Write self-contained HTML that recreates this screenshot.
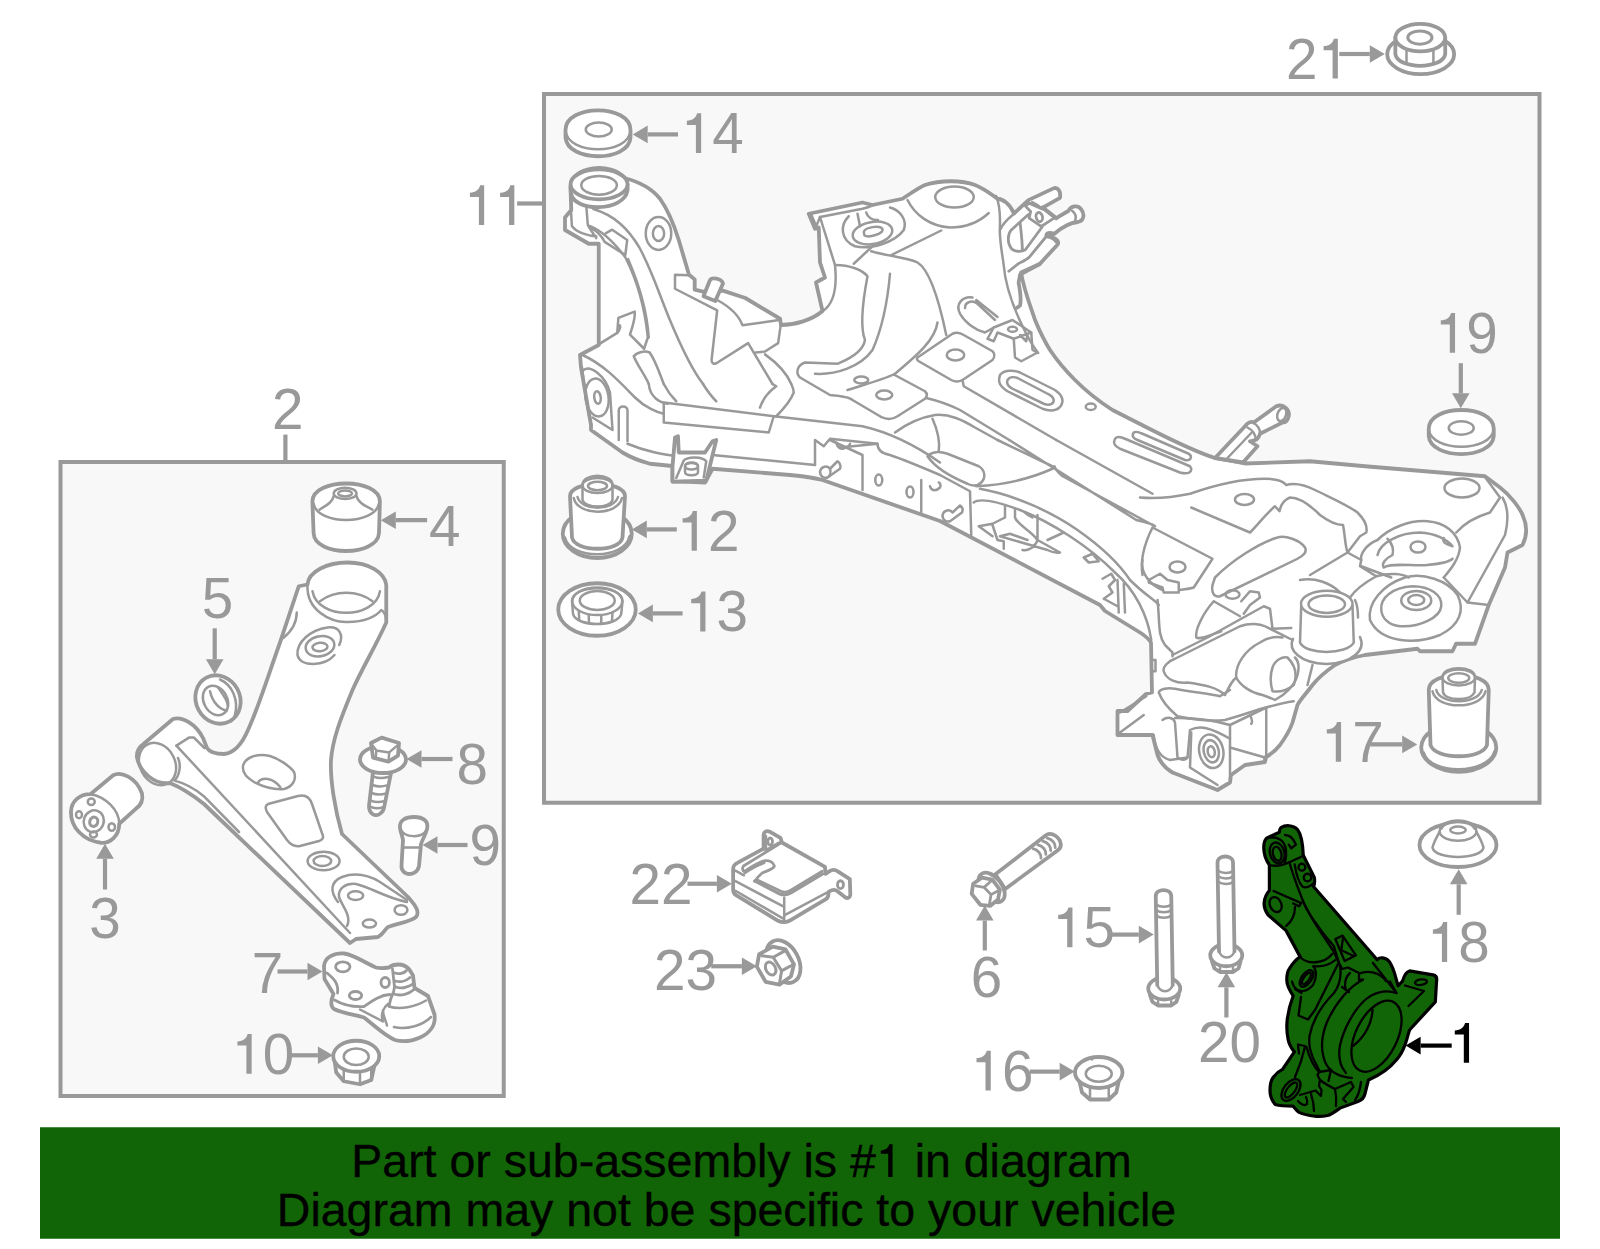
<!DOCTYPE html>
<html><head><meta charset="utf-8"><title>Diagram</title>
<style>
html,body{margin:0;padding:0;background:#fff;}
body{width:1600px;height:1249px;overflow:hidden;position:relative;font-family:"Liberation Sans",sans-serif;}
svg{position:absolute;left:0;top:0;display:block;}
svg *{vector-effect:non-scaling-stroke;}
.o{fill:#fff;stroke:#999;stroke-width:3.8;stroke-linejoin:round;stroke-linecap:round;}
.k{fill:none;stroke:#999;stroke-width:3.8;stroke-linejoin:round;stroke-linecap:round;}
.t{fill:none;stroke:#999;stroke-width:2.5;stroke-linejoin:round;stroke-linecap:round;}
.w{fill:#fff;stroke:#999;stroke-width:2.5;stroke-linejoin:round;stroke-linecap:round;}
.ko{fill:#126506;stroke:#000;stroke-width:3.2;stroke-linejoin:round;stroke-linecap:round;}
.kt{fill:none;stroke:#000;stroke-width:2.3;stroke-linejoin:round;stroke-linecap:round;}
.kw{fill:#126506;stroke:#000;stroke-width:2.3;stroke-linejoin:round;stroke-linecap:round;}
text{font-family:"Liberation Sans",sans-serif;} .lb{font-family:"Liberation Sans",sans-serif;font-size:54px;fill:#999;}
.bn{font-family:"Liberation Sans",sans-serif;font-size:46.5px;fill:#000;stroke:#000;stroke-width:0.35;}
</style></head><body>
<svg width="1600" height="1249" viewBox="0 0 1600 1249">
<rect x="0" y="0" width="1600" height="1249" fill="#fff"/>
<rect x="60.5" y="462" width="443.25" height="634" fill="#f8f8f8" stroke="#999" stroke-width="4"/>
<rect x="544" y="94" width="995.5" height="708.75" fill="#f8f8f8" stroke="#999" stroke-width="4"/>
<rect x="40" y="1127.25" width="1520" height="111.5" fill="#126506"/>
<text class="bn" x="351.25" y="1177" style="white-space:pre" xml:space="preserve">Part or sub-assembly is #</text>
<path d="M888.23,1177.00 L888.23,1153.84 L880.84,1153.84 L880.84,1150.40 C885.49,1150.22 888.37,1148.08 889.25,1144.31 L892.55,1144.31 L892.55,1177.00 Z" fill="#000"/>
<text class="bn" x="901.72" y="1177" style="white-space:pre" xml:space="preserve"> in diagram</text>
<text class="bn" x="726.5" y="1225.5" text-anchor="middle">Diagram may not be specific to your vehicle</text>
<line x1="285.4" y1="434.6" x2="285.4" y2="462" stroke="#999" stroke-width="4.2"/>
<line x1="517.1" y1="203.5" x2="544" y2="203.5" stroke="#999" stroke-width="4.2"/>
<!-- 10_leftbox.svg -->
<!-- part 4 bushing : zoom [40,380] scale 3.3333 -->
<g transform="translate(40,380) scale(0.3)">
<path class="o" d="M908,405 C908,325 1133,325 1133,405 L1130,510 C1125,590 915,590 912,510 Z"/>
<path class="t" d="M912,412 C925,485 1115,485 1130,412"/>
<ellipse class="t" cx="1017" cy="378" rx="38" ry="19"/>
<ellipse class="t" cx="1017" cy="378" rx="23" ry="10"/>
<path class="t" d="M980,384 C975,410 950,420 932,432 M1054,384 C1060,410 1085,420 1108,432"/>
</g>
<!-- window A : [60,560] scale 4 : part 5 seal, part 3 bushing -->
<g transform="translate(60,560) scale(0.25)">
<ellipse class="o" cx="632" cy="558" rx="88" ry="99" transform="rotate(-28 632 558)"/>
<path class="t" d="M640,478 C690,500 715,560 700,620 C695,635 690,640 685,645"/>
<ellipse class="t" cx="622" cy="562" rx="47" ry="62" transform="rotate(-28 622 562)"/>
<path class="t" d="M600,525 C610,570 640,600 668,602 M632,510 C650,535 670,560 672,585"/>
<!-- part 3 -->
<path class="o" d="M121.6,936.8 L212.8,860.8 C243,845.6 304,867 328,934 C334,964 322,982 304,994.6 L237,1055 C237,1104 200.6,1134 164,1131 C91,1122 42.6,1067.5 43.8,1006.7 C45.6,964 79,936.8 121.6,936.8 Z"/>
<path class="t" d="M121.6,936.8 C182,946 237,1000.6 237,1055"/>
<ellipse class="t" cx="135" cy="1045" rx="40" ry="44" transform="rotate(20 135 1045)"/>
<ellipse class="t" cx="135" cy="1047" rx="16" ry="19" transform="rotate(20 135 1047)" style="stroke-width:3"/>
<ellipse class="t" cx="125" cy="967" rx="14" ry="13"/><ellipse class="t" cx="76" cy="1019" rx="12" ry="14"/>
<ellipse class="t" cx="207" cy="1068" rx="13" ry="15"/><ellipse class="t" cx="134" cy="1098" rx="14" ry="12"/>
</g>
<!-- window C : [130,700] scale 5 : lower arm, bolt 8, pin 9 ; upper arm converted from window A (zA-> zC: x=(zx/4+60-130)*5, y=(zy/4+560-700)*5) -->
<g transform="translate(60,560) scale(0.25)">
<!-- upper arm (window A coords), closed with lower arm drawn in same coords: zC->zA : x=(zx/5+130-60)*4 = 0.8zx+280 ; y=0.8zy+560 -->
<path class="o" d="M955,105 L990,98 C995,45 1070,10 1150,10 C1235,10 1300,50 1305,100 L1305,250 C1260,350 1210,430 1170,520 C1120,640 1090,720 1084,800 C1080,880 1100,1000 1128,1096 L1392,1348 C1424,1384 1440,1408 1424,1428 C1400,1448 1352,1452 1312,1468 C1296,1480 1292,1500 1272,1508 L1184,1516 L1160,1532 L576,976 C536,944 488,912 440,892 C380,900 320,850 308,790 C305,760 320,745 335,735 L452,636 C488,624 544,656 572,712 L588,752 C600,772 624,776 656,776 C696,772 728,736 752,680 C790,600 830,470 880,330 Z"/>
<path class="t" d="M990,100 C985,200 1080,250 1150,248 C1220,248 1265,225 1285,200 C1295,205 1300,215 1305,235"/>
<path class="t" d="M1010,125 C1030,240 1260,240 1280,125"/>
<path class="t" d="M1040,165 C1100,120 1190,120 1250,165"/>
<path class="t" d="M947,210 C947,260 920,290 893,312"/>
<path class="t" d="M1098,380 C1060,425 960,430 950,380 C945,330 1000,280 1070,270 C1120,265 1135,300 1117,340"/>
<ellipse class="t" cx="1040" cy="345" rx="58" ry="40" transform="rotate(-12 1040 345)"/>
<ellipse class="t" cx="1040" cy="348" rx="30" ry="17" transform="rotate(-5 1040 348)"/>
<ellipse class="t" cx="390" cy="816" rx="70" ry="88" transform="rotate(-28 390 816)"/>
</g>
<g transform="translate(130,700) scale(0.2)">
<path class="t" d="M232,228 L295,188 L320,188 L372,240"/>
<path class="t" d="M232,228 L1100,1165"/>
<path class="t" d="M240,290 C258,330 246,380 222,403 C275,416 325,444 369,481 L545,660"/>
<path class="t" d="M565,330 C575,285 640,265 700,280 C740,292 800,330 820,360 C835,400 810,435 770,445 C720,450 660,430 620,410 C590,390 560,370 565,330 Z"/>
<path class="t" d="M640,412 C660,385 712,385 752,436"/>
<path class="t" d="M690,520 L840,480 C880,470 900,490 910,520 L965,680 C968,695 960,700 945,705 L850,730 C820,735 800,720 785,700 L685,560 C675,540 675,528 690,520 Z"/>
<ellipse class="t" cx="968" cy="805" rx="80" ry="46"/>
<ellipse class="t" cx="962" cy="805" rx="44" ry="25"/>
<path class="t" d="M1040,1010 C1000,960 1000,910 1060,885 C1130,860 1200,880 1250,910 L1385,1000"/>
<path class="t" d="M1085,1130 C1110,1080 1060,1030 1045,985 C1040,940 1080,915 1130,920 C1200,935 1280,990 1385,1010"/>
<ellipse class="t" cx="1128" cy="978" rx="38" ry="22"/><ellipse class="t" cx="1355" cy="1050" rx="32" ry="24"/><ellipse class="t" cx="1197" cy="1118" rx="33" ry="20"/>
<!-- bolt 8 -->
<path class="o" d="M1215,360 L1195,530 C1195,570 1225,582 1245,572 C1265,562 1270,545 1272,530 L1305,365 Z"/>
<path class="t" d="M1218,383 C1240,392 1265,392 1290,385 M1213,425 C1235,434 1262,434 1285,427 M1208,465 C1230,474 1258,474 1280,467 M1204,503 C1225,512 1252,512 1274,505 M1206,535 C1225,543 1248,543 1266,536"/>
<ellipse class="o" cx="1265" cy="297" rx="115" ry="68"/>
<path class="o" d="M1205,215 L1258,188 L1345,215 L1340,278 L1292,308 L1215,288 Z"/>
<path class="t" d="M1207,220 L1232,252 L1296,262 L1343,222 M1232,252 L1228,292 M1296,262 L1293,306"/>
<!-- pin 9 -->
<path class="o" d="M1350,640 C1345,600 1380,585 1420,585 C1465,585 1495,605 1485,645 C1480,670 1465,690 1455,720 L1445,830 C1440,860 1410,875 1385,868 C1360,860 1355,840 1358,820 L1365,700 C1362,680 1352,660 1350,640 Z"/>
<path class="t" d="M1352,645 C1372,692 1460,692 1484,648 M1366,737 L1452,737"/>
</g>
<!-- window B : [110,790] scale 4 : ball joint 7, nut 10 -->
<g transform="translate(110,790) scale(0.25)">
<!-- nut 10 -->
<path class="o" d="M898,1080 L905,1130 L935,1165 L1000,1177 L1045,1160 L1058,1100 Z"/>
<ellipse class="o" cx="985" cy="1065" rx="92" ry="62"/>
<ellipse class="t" cx="985" cy="1067" rx="50" ry="33"/>
<path class="t" d="M935,1120 L935,1165 M1000,1128 L1000,1175 M1045,1115 L1045,1160"/>
</g>
<!-- ball joint 7: [300,940] scale 10 -->
<g transform="translate(300,940) scale(0.1)">
<path class="o" d="M240,260 C250,170 340,130 440,135 C540,145 650,230 760,275 C800,285 850,280 890,275 C930,240 1030,225 1090,290 L1130,355 L1145,480 L1280,560 L1345,745 C1360,850 1300,930 1200,975 C1120,1010 1020,1020 950,1000 C850,960 750,860 640,775 C560,750 420,730 340,690 C300,660 310,600 335,540 L245,390 Z"/>
<ellipse class="t" cx="428" cy="268" rx="72" ry="50" style="stroke-width:2.8"/><ellipse class="t" cx="852" cy="425" rx="42" ry="50" style="stroke-width:2.8"/><ellipse class="t" cx="555" cy="555" rx="62" ry="40" style="stroke-width:2.8"/>
<path class="t" d="M270,330 C330,380 390,430 375,530 M345,600 C430,650 550,670 640,665 C720,610 800,550 900,545" style="stroke-width:2.8"/>
<path class="t" d="M925,290 L945,470 L935,520 C905,580 895,630 890,660 M950,330 C990,345 1040,335 1065,305 M955,410 C1000,425 1060,410 1100,375 M960,470 C1010,490 1080,470 1130,440 M940,540 C1010,565 1090,540 1140,495" style="stroke-width:2.8"/>
<path class="t" d="M890,665 C1000,700 1150,670 1260,605 M940,870 C1060,900 1220,860 1310,770 M600,695 L830,815 C800,740 840,670 880,640 M830,700 C830,760 860,810 870,855"/>
</g>

<!-- 20_subframe.svg -->
<!-- subframe outline (actual coords) -->
<path class="o" d="M570.5,187.5 C571,165 612,162 624.4,178 C640,182 653,190 660,198.75 C668,210 675,228 678.75,240 L689,274.7 L694.7,279.4 L694.7,289.7 L703,291.6 L722.8,290.6 L745.3,298 L780,318.75 L781,325 C795,325 812,320 822.5,311 L816,282.5 L825,277.5 L820,262.5 L818.75,227.5 L815,228.75 L808.75,213.75 L862.5,202.5 L872.5,205 L902.5,198.75 C910,194 918,188 925,185 C940,180 962,180 975,185 C985,189 992,195 997.5,198.75 L997.5,198.75 C1003,199 1010,204 1014,213.5 L1028.4,200.1 L1054,188.1 C1058,187.5 1061,191 1060,197.8 L1042.7,207.6 L1056.2,218.2 L1068.3,211 C1071,205.5 1078,205 1081,209 C1085,214 1084,221 1078,222 C1070,222.5 1061,228 1054,234 C1050,232 1046,233 1046.5,236 C1052,236 1060,240 1057.7,244.5 L1039.7,264 L1021,272.5 C1024,290 1030,305 1035,320 C1040,332 1045,342 1050,350 C1058,362 1066,371 1075,380 C1087,392 1100,402 1112.5,410 L1140,424 C1160,434 1190,450 1215,458 L1245,463.5 L1310,461.25 L1365,466.25 L1485,476.25 L1500,487.5 C1510,495 1520,508 1523,516 C1527,525 1527.5,535 1522.5,545 L1507.5,552.5 L1505,567.5 L1488.75,605 L1475,643.75 L1456,643.75 L1452.5,651.25 L1420,651.25 L1417.5,648.75 L1365,655 C1355,657 1345,660 1335,665 C1325,672 1318,678 1312.5,685 C1305,695 1300,700 1297.5,705 L1292.5,722.5 C1290,730 1285,738 1280,745 C1276,750 1270,755 1265,757.5 L1265,762 L1245,765 L1231,775 L1230,782.5 L1217.5,790 L1172.5,772.5 C1165,768 1160,762 1157.5,755 L1152.5,735 L1117.5,735 L1117.5,711 L1127.5,711 L1146,694 L1152,692.5 L1151,642.5 C1148,638 1144,635 1140,632.5 L1105,611 L1100,605 L940,521 L822.5,480 C812,477 800,476 790,475 L712.5,468.75 L705,482.5 L672.5,481 L672.5,466 L650,463.75 C640,461 630,457 622.5,452.5 L591,430 L591,425 L581,367.5 L580,355 L598.75,345 L598.75,243.75 L588.75,243.75 L565,230 L565,217.5 L571.25,210 Z"/>

<!-- 21_sf_w1.svg -->
<!-- subframe window T1: [540,150] scale 5.3333 -->
<g transform="translate(540,150) scale(0.1875)">
<path class="o" d="M163,190 L165,230 C180,335 450,330 467,215 L467,185 Z"/><ellipse class="o" cx="315" cy="183" rx="152" ry="80"/>
<ellipse class="t" cx="315" cy="188" rx="95" ry="50"/>

<path class="t" d="M247,300 L255,400 C270,430 290,450 300,470 M165,320 L170,405 C195,440 255,458 300,460"/>
<path class="t" d="M285,315 C400,350 470,420 530,520 C600,650 640,780 690,900 C740,1020 800,1160 870,1248"/>
<path class="t" d="M265,405 C330,430 400,500 455,572 C520,700 560,850 575,1000 L555,1060 L480,985 C490,950 510,900 505,862 L418,895 L412,975 L315,1035"/>
<path class="t" d="M470,582 C530,720 570,850 580,1000 M412,975 C425,960 432,945 425,935"/>
<path class="t" d="M350,445 L385,425 L465,480 L455,560 L345,490 M270,415 C300,430 330,460 345,490"/>
<ellipse class="t" cx="632" cy="445" rx="68" ry="88"/><ellipse class="t" cx="632" cy="445" rx="30" ry="40"/>
<path class="t" d="M795,668 L720,665 L720,740 L945,855 L915,1120 C915,1140 930,1145 945,1135 L1110,1030 L1240,1248"/>
<path class="t" d="M945,800 C1000,830 1060,880 1080,935 L1285,905 M1285,925 L1270,1030 L1200,1075 L1150,1080"/>
<path class="o" d="M872,780 L905,697 C915,675 968,685 976,712 L935,805 Z"/>
<path class="t" d="M1200,1090 C1270,1140 1320,1200 1340,1248"/>
<path class="t" d="M500,1100 C520,1075 560,1070 585,1080 C620,1130 640,1200 660,1248 M500,1100 C520,1150 560,1200 580,1248"/>
</g>

<!-- 22_sf_w2.svg -->
<!-- subframe window W2: [800,160] scale 4 -->
<g transform="translate(800,160) scale(0.25)">
<path class="t" d="M45,218 L65,265 L80,228 L250,195 C270,190 285,185 290,180"/>
<path class="t" d="M80,228 L140,420 C150,520 130,580 90,605"/>
<path class="t" d="M195,225 C160,260 160,320 220,345 C280,360 380,330 415,280 C430,240 400,200 360,190"/>
<ellipse class="t" cx="290" cy="292" rx="80" ry="44" transform="rotate(-10 290 292)"/>
<path class="t" d="M255,288 C258,270 320,258 330,276 C335,296 275,312 258,302 Z"/>
<path class="t" d="M230,215 L240,265 M265,210 C270,230 290,242 312,240"/>
<ellipse class="t" cx="618" cy="148" rx="77" ry="42"/>
<path class="t" d="M430,160 C460,220 520,265 600,270 C670,270 720,245 755,212"/>
<path class="t" d="M290,345 L215,415 M285,365 C350,385 430,390 470,410 C520,440 560,580 585,700 M365,380 L565,282"/>
<path class="t" d="M140,420 C200,420 250,440 270,465 C250,570 240,670 260,720 C250,780 160,810 150,815 L20,810 C-10,820 -20,850 0,870 L120,940 C180,945 200,950 210,960 L325,1028"/>
<path class="t" d="M360,455 C350,570 330,670 290,760 C240,830 140,860 60,855"/>
<path class="t" d="M550,650 C540,720 470,780 380,855 C330,880 250,900 190,920"/>
<path class="t" d="M470,790 L610,695 C625,688 640,690 655,700 L770,765 C780,775 778,790 770,800 L650,880 C635,888 620,888 605,880 L475,805 C468,800 465,795 470,790 Z"/>
<ellipse class="t" cx="622" cy="780" rx="35" ry="22"/>
<path class="t" d="M375,858 L500,925 C510,935 510,945 500,955 L390,1025 C370,1038 345,1038 325,1028"/>
<ellipse class="t" cx="337" cy="940" rx="32" ry="18"/><ellipse class="t" cx="245" cy="880" rx="28" ry="14"/>
<path class="t" d="M690,550 C650,545 620,575 640,615 C660,650 700,680 740,690 L775,670 M660,592 C660,565 690,560 710,575 L780,640 M705,560 L790,628"/>
<path class="w" d="M775,670 L850,640 L925,690 L930,760 L950,770 L885,805 L860,790 L855,715 L790,690 L775,725 L750,715 Z"/>
<ellipse class="t" cx="850" cy="677" rx="18" ry="10"/>
<path class="t" d="M855,715 L925,690 M880,700 L905,725 L910,695"/>
<path class="t" d="M800,860 C790,890 800,905 830,925 L970,995 C1010,1010 1045,1000 1050,965 C1050,945 1040,935 1020,920 L880,850 C850,838 815,840 800,860 Z"/>
<path class="t" d="M830,880 C825,895 830,905 850,915 L975,975 C1000,985 1015,975 1015,960 C1012,945 1000,940 990,935 L870,872 C855,866 838,868 830,880 Z"/>
<ellipse class="t" cx="1163" cy="987" rx="20" ry="13"/>
<path class="t" d="M1335,1090 C1325,1105 1335,1115 1350,1120 L1540,1200 C1565,1205 1570,1185 1555,1175 L1370,1095 C1355,1088 1342,1085 1335,1090 Z"/>
<path class="t" d="M1260,1115 C1250,1135 1260,1145 1280,1155 L1520,1250 C1555,1260 1575,1245 1560,1225 L1300,1115 C1285,1108 1268,1105 1260,1115 Z"/>
<!-- bottom-left long lines -->
<path class="t" d="M505,952 C560,965 610,985 640,1000 L837,1120 M650,882 L655,905 L1025,1120"/>
<path class="t" d="M380,1090 C420,1060 480,1030 540,1020 C600,1015 650,1040 700,1070 L790,1120 M530,1035 C550,1080 560,1130 555,1165"/>
</g>

<!-- 23_sf_w3.svg -->
<!-- subframe window W3: [1140,380] scale 4 -->
<g transform="translate(1140,380) scale(0.25)">
<path class="o" d="M300,312 L420,185 C430,170 445,165 455,170 L545,105 C570,95 600,115 595,145 C590,165 580,170 570,170 L480,215 C475,230 470,238 462,240 L440,245 L470,265 L412,330 Z"/>
<ellipse class="t" cx="567" cy="138" rx="17" ry="27" transform="rotate(20 567 138)"/>
<path class="t" d="M350,312 L445,212 M430,190 C450,200 465,220 462,240 M455,172 C470,180 482,200 480,215"/>
<ellipse class="t" cx="1288" cy="432" rx="70" ry="38"/>
<path class="t" d="M0,470 C60,475 130,470 200,455 C300,420 400,395 500,395 C540,395 570,400 585,420 C620,410 660,420 700,440 C760,470 830,500 870,530 C900,560 910,590 905,610 L880,625 L830,690"/>
<path class="t" d="M205,510 L440,610 C470,580 500,540 540,505 L558,525 C562,500 575,480 600,470 C640,470 680,500 720,540 C760,570 790,580 812,580 C820,620 820,660 830,690 L680,780"/>
<path class="t" d="M300,790 C370,720 480,650 550,630 C580,620 640,640 660,670 C670,690 650,705 630,715 L320,865 C295,870 285,850 290,820 Z"/>
<ellipse class="t" cx="418" cy="478" rx="38" ry="22"/>
<path class="t" d="M50,590 L290,715 L215,830 C190,838 165,838 150,842 M50,590 C20,650 0,720 10,780"/>
<ellipse class="t" cx="150" cy="748" rx="32" ry="22"/>
<path class="w" d="M35,800 L80,775 L110,800 L155,810 L155,850 L95,850 L90,830 L35,810 Z"/>
<path class="t" d="M885,720 C880,700 900,660 950,640 C1000,590 1080,560 1150,565 C1220,570 1270,610 1280,670 C1275,720 1240,760 1215,790"/>
<path class="t" d="M950,700 C960,650 1040,610 1120,610 C1180,612 1230,640 1250,665 L1225,655 C1215,650 1212,640 1215,632"/>
<path class="t" d="M990,635 C1010,655 1015,680 1010,700 C980,715 965,735 975,750 C1000,730 1100,745 1150,740 C1200,735 1240,725 1250,715"/>
<ellipse class="t" cx="1112" cy="668" rx="30" ry="22"/>
<path class="t" d="M830,690 L885,720 L880,745 L945,785 C900,810 860,840 840,870 M885,745 L1005,790"/>
<ellipse class="t" cx="1105" cy="880" rx="32" ry="20"/><ellipse class="t" cx="1105" cy="882" rx="60" ry="38"/>
<path class="t" d="M965,920 C960,870 1010,830 1090,825 C1160,825 1210,860 1205,905 C1200,950 1120,990 1040,985 C990,980 968,950 965,920 Z"/>
<path class="t" d="M920,960 C910,890 970,820 1060,790 C1130,770 1230,800 1270,860 C1300,920 1280,980 1200,1020 C1100,1060 960,1050 920,960 Z"/>
<path class="t" d="M945,785 C1000,770 1050,775 1075,790 M1215,790 L1310,890"/>
<!-- center cylinder -->
<path class="w" d="M612,1035 C590,1080 640,1132 745,1136 C850,1132 905,1080 880,1028"/>
<path class="w" d="M645,900 L640,1050 C660,1100 830,1100 855,1050 L850,900 Z"/>
<ellipse class="w" cx="747" cy="895" rx="103" ry="52"/><ellipse class="t" cx="747" cy="897" rx="73" ry="35"/>
<path class="t" d="M860,880 C870,900 872,930 872,950"/>
<path class="t" d="M1380,388 L1440,470 L1400,530 C1350,545 1300,570 1265,610"/>
<path class="t" d="M1450,470 C1480,520 1470,580 1460,620 L1310,890 L1395,900"/>
<path class="t" d="M640,800 C700,790 760,810 800,850"/>
</g>

<!-- 24_sf_w4.svg -->
<!-- subframe window W4: [540,330] scale 4 -->
<g transform="translate(540,330) scale(0.25)">
<ellipse class="t" cx="228" cy="270" rx="46" ry="76" transform="rotate(-8 228 270)"/>
<ellipse class="t" cx="230" cy="270" rx="13" ry="25" transform="rotate(-8 230 270)"/>
<path class="t" d="M175,160 C200,140 260,180 280,250 L290,400 L210,350 M168,150 C180,250 190,330 205,380"/>
<path class="t" d="M315,322 C315,300 350,300 350,322 L350,445 M315,322 L315,440"/>
<path class="t" d="M170,100 C260,140 330,220 380,270 C420,310 470,330 495,335"/>
<path class="w" d="M495,290 L935,345 L915,410 L495,370 Z"/>
<path class="t" d="M935,345 L1290,385 C1400,410 1500,460 1600,530 M350,455 C420,485 500,500 540,503 M690,500 L1100,540"/>
<path class="o" d="M530,545 L540,430 L552,425 L555,490 L660,490 L690,445 L705,440 L665,603 L530,607 Z"/>
<path class="t" d="M545,592 L575,522 C590,505 650,505 665,525 L655,590"/>
<path class="w" d="M580,545 C580,525 632,525 632,545 L632,568 C632,585 580,585 580,568 Z"/><ellipse class="t" cx="606" cy="545" rx="26" ry="13"/>
<path class="t" d="M495,216 C510,245 525,265 545,285 M435,216 C440,270 480,290 510,295"/>
<path class="t" d="M652,216 C670,245 690,270 705,285 M930,216 L945,225 C910,250 890,280 880,310"/>
<path class="t" d="M1005,216 C1012,230 1015,240 1015,250 C1000,290 970,320 945,345"/>
<path class="t" d="M1100,540 L1100,440 L1135,465 L1160,435 L1350,455 M1160,440 L1290,500"/>
<path class="w" d="M1120,565 C1125,545 1150,540 1160,555 L1190,525 C1200,530 1205,545 1200,555 L1150,590 C1135,595 1120,585 1120,565 Z"/>
<path class="t" d="M1185,450 C1190,475 1210,480 1225,470 C1235,465 1240,460 1240,455 M1160,555 C1165,570 1160,585 1150,590"/>
</g>

<!-- 25_sf_w5.svg -->
<!-- subframe window W5: [840,440] scale 4 -->
<g transform="translate(840,440) scale(0.25)">
<path class="t" d="M0,30 L150,15 C150,40 170,55 200,60 C260,80 330,110 400,140 L520,205 L525,380"/>
<path class="t" d="M90,65 L90,200 M325,160 L325,290"/>
<ellipse class="t" cx="155" cy="160" rx="14" ry="22"/><ellipse class="t" cx="280" cy="208" rx="14" ry="22"/>
<path class="t" d="M360,185 C365,205 385,205 400,190 C405,180 400,172 395,170"/>
<path class="w" d="M410,300 C415,280 440,275 450,290 L480,262 C490,268 492,280 488,290 L440,325 C425,330 410,320 410,300 Z"/>
<path class="t" d="M350,65 C365,45 400,45 430,55 L555,105 C580,120 585,150 565,170 C550,185 530,185 510,175 C450,150 380,110 350,65 Z"/>
<path class="t" d="M545,185 C650,180 760,155 850,115 L858,105 M630,0 L860,110 C870,130 880,140 900,150 L1250,340 M677,0 L1185,320 C1220,330 1240,330 1260,345 M865,0 L1250,215"/>
<path class="t" d="M535,250 C560,230 640,250 720,280 C850,330 1000,430 1100,530 C1180,600 1230,700 1245,800"/>
<path class="t" d="M560,195 C700,220 850,290 950,360 C1050,430 1120,500 1160,560 C1220,620 1260,640 1275,660"/>
<path class="t" d="M660,260 L660,310 L610,335 L555,345 L610,385 M610,340 L630,400 L655,405 L655,435 M700,275 L700,310 C710,340 760,360 790,400 L880,450 C860,455 840,445 830,440 L640,385 L680,375 L750,400 M790,300 L790,400 C780,430 750,445 730,440 M830,400 L895,370 M740,290 C750,300 760,305 770,310"/>
<path class="t" d="M975,470 L1010,455 L1035,485 L995,490 Z M1050,555 L1085,535 L1100,560 L1075,585 L1090,610 L1055,635 L1110,665 M1110,560 L1115,690 M1135,575 L1140,690"/>
<path class="t" d="M1245,880 L1262,880 L1262,925 L1247,925"/>
</g>

<!-- 26_sf_w6.svg -->
<!-- subframe window W6: [1100,560] scale 4 -->
<g transform="translate(1100,560) scale(0.25)">
<path class="t" d="M290,380 L430,310 L655,185 L680,195 L690,275 L765,272"/>
<path class="t" d="M255,445 C265,480 310,495 350,490 C420,500 470,510 500,540 C520,500 530,480 545,470 M255,445 C250,430 270,405 300,395 L560,265 C600,250 640,255 660,265 L770,320"/>
<path class="t" d="M545,470 C540,420 580,360 640,330 C670,310 700,305 730,310 M545,470 C560,500 600,530 650,540 C680,550 690,555 700,560 C740,540 780,500 790,460 C800,420 790,400 780,390"/>
<path class="t" d="M690,430 C700,400 730,385 750,390 C780,420 790,460 775,500 C750,520 720,530 690,525 C680,490 680,460 690,430 Z"/>
<path class="t" d="M235,530 C240,515 270,510 300,515 C380,530 440,535 480,545 L520,520 M235,530 C250,570 280,600 310,625 C380,640 450,645 500,640 C560,625 620,600 665,590"/>
<path class="t" d="M665,590 L665,800 M665,590 C700,580 740,570 775,565 M520,660 L520,880 M520,660 L665,590 M520,660 C450,640 380,630 300,632"/>
<path class="t" d="M250,640 C270,625 295,630 300,650 L310,790 C330,805 345,800 350,790 L360,680 C400,660 440,670 520,715"/>
<path class="t" d="M365,690 L360,830 L470,900 M215,700 C220,750 240,790 280,800 L350,790 M520,750 L660,790 M600,620 C610,640 610,650 605,655"/>
<ellipse class="t" cx="445" cy="765" rx="48" ry="68" transform="rotate(-12 445 765)"/>
<ellipse class="t" cx="445" cy="765" rx="30" ry="45" transform="rotate(-12 445 765)"/>
<ellipse class="t" cx="445" cy="767" rx="14" ry="22" transform="rotate(-12 445 767)"/>
<path class="t" d="M850,420 L830,500 M80,610 L185,545 M80,690 L175,620"/>
<path class="t" d="M170,0 C160,50 200,100 250,120 M230,160 C240,250 230,300 260,340 L290,370 L290,385"/>
<path class="t" d="M455,165 C410,215 380,280 385,310 C400,320 440,300 485,285 M455,165 L560,225"/>
<ellipse class="t" cx="530" cy="138" rx="28" ry="17"/>
<path class="t" d="M565,165 L600,125 L635,130 L640,150 L600,180 L575,215"/>
</g>

<!-- 27_sf_bracket.svg -->
<!-- bracket & pins: [990,170] scale 13.29 -->
<g transform="translate(990,170) scale(0.07527)">
<path class="t" d="M80,345 C130,450 140,600 130,800 C130,950 160,1100 180,1249 C200,1500 300,1800 420,2050 C480,2180 560,2330 640,2430"/>
<path class="t" d="M320,580 C250,640 170,700 145,780"/>
<path class="t" d="M510,590 L280,800 C230,860 230,980 290,1050 C340,1090 420,1090 470,1060 L690,760 M400,700 C410,800 430,950 430,1070" style="stroke-width:2.8"/>
<path class="t" d="M470,480 L540,550 L520,640 L680,750 L850,640 M470,480 L520,440 L700,520 M560,430 C600,450 650,480 700,520" style="stroke-width:2.8"/>
<ellipse class="t" cx="655" cy="625" rx="42" ry="62" transform="rotate(-15 655 625)" style="stroke-width:2.8"/>
<path class="t" d="M1090,540 C1130,570 1150,620 1130,670"/>
<path class="t" d="M750,880 L520,1160 C480,1200 420,1220 370,1249 L250,1345 M770,890 C820,900 860,930 880,960" style="stroke-width:2.8"/>
<path class="k" d="M700,500 L880,640"/>
<path class="k" d="M660,1249 L400,1390 L380,1500 C400,1600 420,1700 400,1800 L360,1830"/>
</g>

<!-- 40_small.svg -->
<!-- nut 21: [1270,10] scale 7.619 -->
<g transform="translate(1270,10) scale(0.13125)">
<ellipse class="o" cx="1148" cy="338" rx="255" ry="150"/>
<path class="o" d="M955,210 L955,335 C970,455 1320,455 1335,335 L1335,210 Z"/>
<ellipse class="o" cx="1145" cy="210" rx="190" ry="105"/>
<ellipse class="k" cx="1142" cy="210" rx="92" ry="50" style="stroke-width:3"/>
<path class="t" d="M1040,312 L1040,398 M1245,312 L1245,398"/>
</g>
<!-- W1 [540,90] scale4: washer 14 -->
<g transform="translate(540,90) scale(0.25)">
<path class="o" d="M102,160 C102,55 362,55 362,160 L362,190 C355,290 110,290 102,190 Z"/>
<path class="t" d="M102,162 C110,262 355,262 362,162"/>
<ellipse class="t" cx="235" cy="158" rx="52" ry="28"/>
</g>
<!-- W4 [540,330] scale4: bushing 12, cap 13 -->
<g transform="translate(540,330) scale(0.25)">
<ellipse class="o" cx="229" cy="815" rx="138" ry="97"/>
<path class="t" d="M100,830 C120,920 340,920 358,825"/>
<path class="o" d="M120,665 C120,600 340,600 340,665 L330,830 C320,890 140,890 128,830 Z"/>
<path class="t" d="M135,672 C150,745 310,745 328,672 M150,668 C165,725 295,725 312,668"/>
<path class="w" d="M170,620 C170,570 290,570 290,620 L290,680 C280,715 180,715 170,680 Z"/>
<ellipse class="t" cx="230" cy="622" rx="60" ry="30"/><ellipse class="t" cx="230" cy="624" rx="38" ry="17"/>
<!-- 13 -->
<ellipse class="o" cx="228" cy="1118" rx="155" ry="105"/>
<path class="w" d="M128,1085 C128,1015 330,1015 330,1085 L325,1135 C310,1190 145,1190 132,1135 Z"/>
<ellipse class="t" cx="229" cy="1085" rx="100" ry="55"/><ellipse class="t" cx="229" cy="1082" rx="70" ry="38"/>
<path class="t" d="M155,1125 L157,1160 M195,1140 L196,1172 M245,1142 L245,1174 M290,1130 L288,1163"/>
</g>
<!-- W3 [1140,380] scale4: washer 19 -->
<g transform="translate(1140,380) scale(0.25)">
<path class="o" d="M1155,195 C1155,95 1415,95 1415,195 L1415,225 C1405,320 1165,320 1155,225 Z"/>
<path class="t" d="M1155,197 C1165,290 1405,290 1415,197"/>
<ellipse class="t" cx="1285" cy="192" rx="50" ry="27"/>
</g>
<!-- W6 [1100,560] scale4: bushing 17, washer 18 -->
<g transform="translate(1100,560) scale(0.25)">
<ellipse class="o" cx="1435" cy="750" rx="150" ry="97"/>
<path class="t" d="M1295,770 C1320,860 1550,860 1578,765"/>
<path class="o" d="M1315,520 C1315,440 1555,440 1555,520 L1548,740 C1530,800 1340,800 1322,740 Z"/>
<path class="t" d="M1330,525 C1345,600 1525,600 1542,525 M1345,520 C1360,580 1510,580 1527,520"/>
<path class="w" d="M1370,470 C1370,420 1500,420 1500,470 L1498,530 C1480,565 1385,565 1372,530 Z"/>
<ellipse class="t" cx="1435" cy="470" rx="65" ry="32"/><ellipse class="t" cx="1435" cy="472" rx="42" ry="19"/>
<!-- 18 -->
<ellipse class="o" cx="1432" cy="1140" rx="154" ry="88"/>
<path class="w" d="M1358,1088 C1358,1032 1506,1032 1506,1088 C1515,1105 1528,1125 1534,1150 C1528,1200 1336,1200 1330,1150 C1336,1125 1349,1105 1358,1088 Z"/>
<path class="k" d="M1364,1072 C1378,1036 1486,1036 1500,1072"/>
<path class="t" d="M1358,1088 C1370,1135 1494,1135 1506,1088"/>
<ellipse class="t" cx="1432" cy="1080" rx="31" ry="14"/>
</g>
<!-- module 22: [720,820] scale 10.667 -->
<g transform="translate(720,820) scale(0.09375)">
<path class="o" d="M140,520 C140,490 160,470 190,455 L465,305 L465,160 C470,120 500,110 530,125 L645,190 L660,240 L1120,500 L1125,575 L1170,545 C1200,525 1230,530 1260,550 L1385,630 L1390,800 C1385,830 1360,840 1335,825 L1260,765 C1230,740 1200,740 1170,760 L1155,770 C1160,800 1150,830 1130,845 L740,1075 C700,1095 660,1095 620,1075 L175,805 C150,790 140,770 140,740 Z"/>
<path class="t" d="M370,650 L640,790 C690,810 720,800 760,775 L1095,575" style="stroke-width:3.2"/>
<path class="t" d="M255,590 L165,540 M400,640 L650,760 C690,775 720,770 750,750 L1090,545 M465,305 L490,320 L630,240 M490,320 L490,170 M685,830 L685,1070 M160,650 L680,925 M165,755 L670,1050 M700,1010 L1130,780"/>
<path class="t" d="M640,250 L250,490 C230,520 250,560 265,545 C330,500 420,450 470,435 C520,425 570,450 580,490 C570,530 500,540 450,565 C420,590 390,620 370,655 M265,565 C340,512 420,472 470,458" style="stroke-width:2.8"/>
<ellipse class="t" cx="535" cy="230" rx="25" ry="38" style="stroke-width:2.8"/>
<ellipse class="t" cx="1285" cy="690" rx="32" ry="42" style="stroke-width:2.8"/>
</g>
<!-- nut 23: [740,925] scale 17.78 -->
<g transform="translate(740,925) scale(0.05625)">
<ellipse class="o" cx="770" cy="650" rx="270" ry="405" transform="rotate(-28 770 650)"/>
<path class="o" d="M340,520 L585,385 L810,435 L960,700 L905,915 L700,1060 L455,1010 L300,740 Z"/>
<path class="k" d="M385,545 L590,572 L740,815 L700,1050" style="stroke-width:3"/>
<path class="k" d="M600,568 L805,455 M745,812 L950,702" style="stroke-width:3"/>
<ellipse class="k" cx="545" cy="775" rx="85" ry="122" transform="rotate(-28 545 775)" style="stroke-width:3"/>
</g>
<!-- [950,810] scale4: bolt 6, 15, 20, nut 16 -->
<g transform="translate(950,810) scale(0.25)">
<!-- bolt 15 -->
<path class="o" d="M800,740 L810,768 L832,782 L885,782 L905,768 L915,740 Z"/>
<ellipse class="o" cx="857" cy="714" rx="64" ry="44"/>
<path d="M823,345 C823,312 885,312 885,345 L891,700 C885,735 835,735 829,700 Z" fill="#fff" stroke="none"/>
<path class="k" d="M829,700 L823,345 C823,312 885,312 885,345 L891,700"/>
<path class="t" d="M829,695 C835,735 885,735 891,695 M832,765 L832,782 M885,765 L885,782"/>
<path class="t" d="M825,378 C840,390 870,390 886,378 M825,400 C840,412 870,412 886,400 M825,422 C840,434 870,434 886,422"/>
<!-- bolt 20 -->
<path class="o" d="M1048,606 L1058,634 L1080,648 L1132,648 L1154,634 L1162,606 Z"/>
<ellipse class="o" cx="1105" cy="581" rx="64" ry="44"/>
<path d="M1070,210 C1070,178 1132,178 1132,210 L1138,565 C1132,600 1082,600 1076,565 Z" fill="#fff" stroke="none"/>
<path class="k" d="M1076,565 L1070,210 C1070,178 1132,178 1132,210 L1138,565"/>
<path class="t" d="M1076,560 C1082,600 1132,600 1138,560 M1080,632 L1080,648 M1132,632 L1132,648"/>
<path class="t" d="M1072,243 C1090,255 1118,255 1133,243 M1072,265 C1090,277 1118,277 1133,265 M1072,287 C1090,299 1118,299 1134,287"/>
<!-- nut 16 -->
<path class="o" d="M518,1085 L528,1130 L560,1158 L635,1158 L665,1130 L675,1085 Z"/>
<ellipse class="o" cx="595" cy="1050" rx="95" ry="62"/>
<ellipse class="t" cx="595" cy="1055" rx="52" ry="32"/>
<path class="t" d="M560,1108 L560,1158 M635,1108 L635,1158 M568,988 L568,998"/>
</g>
<!-- bolt 6: [960,825] scale 13.29 -->
<g transform="translate(960,825) scale(0.07527)">
<path class="o" d="M470,655 L1150,130 C1220,90 1330,160 1340,260 C1340,300 1320,320 1300,335 L600,850 Z"/>
<path class="t" d="M970,315 C1040,330 1080,390 1075,440 M1035,265 C1105,280 1145,340 1140,390 M1100,215 C1170,230 1210,290 1205,340 M1160,175 C1230,190 1270,250 1265,300" style="stroke-width:2.8"/>
<ellipse class="o" cx="420" cy="830" rx="135" ry="225" transform="rotate(-38 420 830)"/>
<path class="t" d="M470,690 C530,740 570,800 585,860" />
<path class="o" d="M175,780 L290,700 L430,725 L530,860 L505,990 L400,1075 L270,1060 L155,915 Z"/>
<path class="t" d="M210,810 L320,828 L412,925 L392,1050 M320,828 L425,735 M412,925 L520,868" style="stroke-width:2.8"/>
</g>

<!-- 90_knuckle.svg -->
<g transform="translate(1240,810) scale(0.15625)">
<path class="ko" d="M262,112 C290,95 340,95 368,125 C395,160 402,220 405,290 L475,430 C480,455 478,475 470,490 L878,958 C895,940 930,940 955,970 C985,1010 995,1070 1012,1125 L1040,1095 C1050,1060 1065,1035 1085,1030 L1235,1055 C1255,1060 1262,1075 1258,1095 L1250,1228 L1085,1408 C1075,1440 1068,1470 1058,1498 C1040,1550 1010,1590 1000,1600 C960,1650 910,1690 822,1728 L800,1815 C795,1840 775,1858 755,1865 L640,1908 C610,1930 585,1950 560,1955 C530,1962 500,1962 478,1960 C440,1955 400,1945 378,1935 C360,1925 350,1905 340,1895 C300,1895 250,1892 225,1885 C205,1860 192,1820 192,1795 C192,1760 200,1725 215,1708 C235,1680 255,1668 272,1660 L348,1548 C325,1520 312,1490 308,1468 C298,1420 298,1380 302,1345 C308,1290 325,1230 340,1190 C315,1150 300,1120 300,1095 C298,1060 305,1030 318,1012 C335,985 360,955 385,940 L295,772 L180,672 C160,645 152,615 155,590 C158,560 170,535 188,515 L188,352 C165,320 152,280 152,240 C152,210 160,190 170,180 L252,142 C252,130 255,120 262,112 Z"/>
<!-- head details -->
<ellipse class="kt" cx="238" cy="275" rx="46" ry="68" transform="rotate(-15 238 275)"/>
<ellipse class="kt" cx="238" cy="280" rx="27" ry="46" transform="rotate(-15 238 280)"/>
<path class="kt" d="M172,182 C225,165 275,185 290,235 C300,275 296,310 286,338"/>
<path class="kt" d="M288,160 C320,160 345,190 358,222 L328,245 L312,222"/>
<path class="kt" d="M190,352 C230,362 280,352 316,334 L396,298"/>
<path class="kt" d="M316,334 C340,420 375,510 400,575 C425,640 500,760 600,870 L640,1000"/>
<path class="kt" d="M350,348 C358,400 378,470 402,492 C425,500 455,488 470,468"/>
<circle class="kt" cx="396" cy="366" r="22"/><circle class="kt" cx="432" cy="432" r="24"/>
<ellipse class="kt" cx="228" cy="605" rx="36" ry="50" transform="rotate(-25 228 605)"/>
<path class="kt" d="M215,518 L392,596 L378,616 L340,598"/>
<path class="kt" d="M352,620 C352,680 322,720 296,742"/>
<path class="kt" d="M386,942 C430,988 535,990 592,920"/>
<path class="kt" d="M400,575 C440,680 530,800 600,905"/>
<path class="kt" d="M610,826 L656,804 L742,930 L670,966 Z"/>
<path class="kt" d="M660,812 L648,898 L728,934"/>
<path class="kt" d="M600,905 C620,960 640,990 650,1010"/>
<path class="kt" d="M470,1000 C520,1005 575,990 610,960"/>
</g>

<!-- hub: [1280,960] scale 10 -->
<g transform="translate(1280,960) scale(0.1)">
<ellipse class="kt" cx="265" cy="185" rx="50" ry="95" transform="rotate(35 265 185)"/>
<ellipse class="kt" cx="265" cy="185" rx="27" ry="68" transform="rotate(35 265 185)"/>
<path class="kt" d="M120,215 C150,330 250,340 330,250 C370,180 365,100 335,65 M150,290 L215,330"/>
<path class="kt" d="M580,40 L350,500 L280,595 L185,555 L210,370"/>
<path class="kt" d="M600,60 C620,180 590,260 540,330 C440,430 330,580 295,760 C285,850 300,900 330,980 L400,1120"/>
<path class="kt" d="M830,197 C700,260 560,420 470,620 C405,780 410,920 455,1030 C500,1120 600,1170 720,1180"/>
<path class="kt" d="M790,135 C880,100 1000,120 1060,210 M790,200 L830,197"/>
<path class="kt" d="M1165,330 C1050,290 930,330 850,400 C740,500 640,680 600,850 C580,960 600,1060 660,1130"/>
<ellipse class="kt" cx="965" cy="762" rx="382" ry="208" transform="rotate(-64 965 762)"/>
<path class="kt" d="M925,500 C920,620 860,760 730,860"/>
<path class="kt" d="M620,90 L680,75 L790,130 L790,200 M660,300 C640,250 650,170 700,130 M620,270 L690,320"/>
<path class="kt" d="M930,30 L1165,330 L1100,215"/>
<ellipse class="kt" cx="1410" cy="222" rx="60" ry="28" transform="rotate(-8 1410 222)"/>
<path class="kt" d="M1250,255 L1440,310 L1285,460"/>
</g>
<!-- bottom: [1255,1030] scale 10 -->
<g transform="translate(1255,1030) scale(0.1)">
<path class="kt" d="M430,145 L500,160 M430,145 L440,235 M500,165 C480,260 440,380 400,470"/>
<path class="kt" d="M515,170 C545,280 600,380 640,420 L760,400 L735,510"/>
<path class="kt" d="M640,420 L625,450 L650,500 L640,560 L665,600 L660,660 L605,605 L450,650"/>
<path class="kt" d="M650,500 C700,540 760,570 800,590 L960,520 L985,570 L880,690 L910,720 M800,590 C812,640 815,700 810,760"/>
<path class="kt" d="M560,640 C580,700 590,760 590,810 M430,710 C460,750 500,760 520,740 C525,720 520,690 510,670 M1060,520 C1050,600 1030,660 1000,700"/>
<ellipse class="kt" cx="360" cy="600" rx="72" ry="125" transform="rotate(38 360 600)"/>
<ellipse class="kt" cx="360" cy="600" rx="38" ry="90" transform="rotate(38 360 600)"/>
</g>

<line x1="427.10" y1="520.20" x2="395.80" y2="520.20" stroke="#999999" stroke-width="4.2"/><polygon points="380.80,520.20 395.80,511.40 395.80,529.00" fill="#999999" stroke="none"/>
<line x1="214.70" y1="628.30" x2="214.70" y2="659.30" stroke="#999999" stroke-width="4.2"/><polygon points="214.70,674.30 205.90,659.30 223.50,659.30" fill="#999999" stroke="none"/>
<line x1="105.00" y1="889.50" x2="105.00" y2="858.80" stroke="#999999" stroke-width="4.2"/><polygon points="105.00,843.80 113.80,858.80 96.20,858.80" fill="#999999" stroke="none"/>
<line x1="452.50" y1="759.00" x2="421.50" y2="759.00" stroke="#999999" stroke-width="4.2"/><polygon points="406.50,759.00 421.50,750.20 421.50,767.80" fill="#999999" stroke="none"/>
<line x1="467.50" y1="845.00" x2="437.50" y2="845.00" stroke="#999999" stroke-width="4.2"/><polygon points="422.50,845.00 437.50,836.20 437.50,853.80" fill="#999999" stroke="none"/>
<line x1="277.50" y1="971.50" x2="307.50" y2="971.50" stroke="#999999" stroke-width="4.2"/><polygon points="322.50,971.50 307.50,980.30 307.50,962.70" fill="#999999" stroke="none"/>
<line x1="290.90" y1="1055.30" x2="317.90" y2="1055.30" stroke="#999999" stroke-width="4.2"/><polygon points="332.90,1055.30 317.90,1064.10 317.90,1046.50" fill="#999999" stroke="none"/>
<line x1="678.00" y1="134.40" x2="647.70" y2="134.40" stroke="#999999" stroke-width="4.2"/><polygon points="632.70,134.40 647.70,125.60 647.70,143.20" fill="#999999" stroke="none"/>
<line x1="676.80" y1="529.40" x2="646.80" y2="529.40" stroke="#999999" stroke-width="4.2"/><polygon points="631.80,529.40 646.80,520.60 646.80,538.20" fill="#999999" stroke="none"/>
<line x1="682.60" y1="613.40" x2="652.90" y2="613.40" stroke="#999999" stroke-width="4.2"/><polygon points="637.90,613.40 652.90,604.60 652.90,622.20" fill="#999999" stroke="none"/>
<line x1="1339.30" y1="54.00" x2="1369.80" y2="54.00" stroke="#999999" stroke-width="4.2"/><polygon points="1384.80,54.00 1369.80,62.80 1369.80,45.20" fill="#999999" stroke="none"/>
<line x1="1460.80" y1="363.20" x2="1460.80" y2="393.20" stroke="#999999" stroke-width="4.2"/><polygon points="1460.80,408.20 1452.00,393.20 1469.60,393.20" fill="#999999" stroke="none"/>
<line x1="1370.50" y1="744.40" x2="1402.20" y2="744.40" stroke="#999999" stroke-width="4.2"/><polygon points="1417.20,744.40 1402.20,753.20 1402.20,735.60" fill="#999999" stroke="none"/>
<line x1="1458.70" y1="914.80" x2="1458.70" y2="884.30" stroke="#999999" stroke-width="4.2"/><polygon points="1458.70,869.30 1467.50,884.30 1449.90,884.30" fill="#999999" stroke="none"/>
<line x1="1226.40" y1="1017.50" x2="1226.40" y2="987.30" stroke="#999999" stroke-width="4.2"/><polygon points="1226.40,972.30 1235.20,987.30 1217.60,987.30" fill="#999999" stroke="none"/>
<line x1="1112.10" y1="934.60" x2="1138.80" y2="934.60" stroke="#999999" stroke-width="4.2"/><polygon points="1153.80,934.60 1138.80,943.40 1138.80,925.80" fill="#999999" stroke="none"/>
<line x1="984.80" y1="950.50" x2="984.80" y2="920.50" stroke="#999999" stroke-width="4.2"/><polygon points="984.80,905.50 993.60,920.50 976.00,920.50" fill="#999999" stroke="none"/>
<line x1="1029.80" y1="1071.60" x2="1059.70" y2="1071.60" stroke="#999999" stroke-width="4.2"/><polygon points="1074.70,1071.60 1059.70,1080.40 1059.70,1062.80" fill="#999999" stroke="none"/>
<line x1="687.50" y1="883.75" x2="716.90" y2="883.75" stroke="#999999" stroke-width="4.2"/><polygon points="731.90,883.75 716.90,892.55 716.90,874.95" fill="#999999" stroke="none"/>
<line x1="711.25" y1="966.25" x2="741.90" y2="966.25" stroke="#999999" stroke-width="4.2"/><polygon points="756.90,966.25 741.90,975.05 741.90,957.45" fill="#999999" stroke="none"/>
<line x1="1451.70" y1="1045.60" x2="1420.60" y2="1045.60" stroke="#000" stroke-width="4.2"/><polygon points="1405.60,1045.60 1420.60,1036.80 1420.60,1054.40" fill="#000" stroke="none"/>
<text x="272.07" y="428.6" font-size="56.6" fill="#999999">2</text>
<text x="429.10" y="545.7" font-size="56.6" fill="#999999">4</text>
<text x="201.84" y="618.2" font-size="56.6" fill="#999999">5</text>
<text x="89.35" y="937.5" font-size="56.6" fill="#999999">3</text>
<text x="456.57" y="784" font-size="56.6" fill="#999999">8</text>
<text x="469.44" y="864.5" font-size="56.6" fill="#999999">9</text>
<text x="251.81" y="993.4" font-size="56.6" fill="#999999">7</text>
<path d="M246.40,1073.80 L246.40,1045.61 L237.40,1045.61 L237.40,1041.42 C243.06,1041.20 246.57,1038.59 247.64,1034.01 L251.66,1034.01 L251.66,1073.80 Z" fill="#999999"/><text x="262.81" y="1073.8" font-size="56.6" fill="#999999">0</text>
<path d="M478.90,225.10 L478.90,196.91 L469.90,196.91 L469.90,192.72 C475.56,192.50 479.07,189.89 480.14,185.31 L484.16,185.31 L484.16,225.10 Z" fill="#999999"/><path d="M509.07,225.10 L509.07,196.91 L500.07,196.91 L500.07,192.72 C505.73,192.50 509.24,189.89 510.31,185.31 L514.33,185.31 L514.33,225.10 Z" fill="#999999"/>
<path d="M695.90,153.10 L695.90,124.91 L686.90,124.91 L686.90,120.72 C692.56,120.50 696.07,117.89 697.14,113.31 L701.16,113.31 L701.16,153.10 Z" fill="#999999"/><text x="712.31" y="153.1" font-size="56.6" fill="#999999">4</text>
<path d="M691.60,550.70 L691.60,522.51 L682.60,522.51 L682.60,518.32 C688.26,518.10 691.77,515.49 692.84,510.91 L696.86,510.91 L696.86,550.70 Z" fill="#999999"/><text x="708.01" y="550.7" font-size="56.6" fill="#999999">2</text>
<path d="M700.20,631.40 L700.20,603.21 L691.20,603.21 L691.20,599.02 C696.86,598.80 700.37,596.19 701.44,591.61 L705.46,591.61 L705.46,631.40 Z" fill="#999999"/><text x="716.61" y="631.4" font-size="56.6" fill="#999999">3</text>
<text x="1286.07" y="78.5" font-size="56.6" fill="#999999">2</text><path d="M1332.60,78.50 L1332.60,50.31 L1323.60,50.31 L1323.60,46.12 C1329.26,45.90 1332.77,43.29 1333.84,38.71 L1337.86,38.71 L1337.86,78.50 Z" fill="#999999"/>
<path d="M1449.80,352.70 L1449.80,324.51 L1440.80,324.51 L1440.80,320.32 C1446.46,320.10 1449.97,317.49 1451.04,312.91 L1455.06,312.91 L1455.06,352.70 Z" fill="#999999"/><text x="1466.21" y="352.7" font-size="56.6" fill="#999999">9</text>
<path d="M1335.80,761.70 L1335.80,733.51 L1326.80,733.51 L1326.80,729.32 C1332.46,729.10 1335.97,726.49 1337.04,721.91 L1341.06,721.91 L1341.06,761.70 Z" fill="#999999"/><text x="1352.21" y="761.7" font-size="56.6" fill="#999999">7</text>
<path d="M1441.90,961.90 L1441.90,933.71 L1432.90,933.71 L1432.90,929.52 C1438.56,929.30 1442.07,926.69 1443.14,922.11 L1447.16,922.11 L1447.16,961.90 Z" fill="#999999"/><text x="1458.31" y="961.9" font-size="56.6" fill="#999999">8</text>
<text x="1197.97" y="1061.7" font-size="56.6" fill="#999999">2</text><text x="1229.44" y="1061.7" font-size="56.6" fill="#999999">0</text>
<path d="M1067.20,947.20 L1067.20,919.01 L1058.20,919.01 L1058.20,914.82 C1063.86,914.60 1067.37,911.99 1068.44,907.41 L1072.46,907.41 L1072.46,947.20 Z" fill="#999999"/><text x="1083.61" y="947.2" font-size="56.6" fill="#999999">5</text>
<text x="970.81" y="996.8" font-size="56.6" fill="#999999">6</text>
<path d="M985.50,1090.50 L985.50,1062.31 L976.50,1062.31 L976.50,1058.12 C982.16,1057.90 985.67,1055.29 986.74,1050.71 L990.76,1050.71 L990.76,1090.50 Z" fill="#999999"/><text x="1001.91" y="1090.5" font-size="56.6" fill="#999999">6</text>
<text x="629.57" y="903.75" font-size="56.6" fill="#999999">2</text><text x="661.04" y="903.75" font-size="56.6" fill="#999999">2</text>
<text x="653.92" y="989.75" font-size="56.6" fill="#999999">2</text><text x="685.39" y="989.75" font-size="56.6" fill="#999999">3</text>
<path d="M1463.80,1062.80 L1463.80,1034.61 L1454.80,1034.61 L1454.80,1030.42 C1460.46,1030.20 1463.97,1027.59 1465.04,1023.01 L1469.06,1023.01 L1469.06,1062.80 Z" fill="#000"/>
</svg></body></html>
